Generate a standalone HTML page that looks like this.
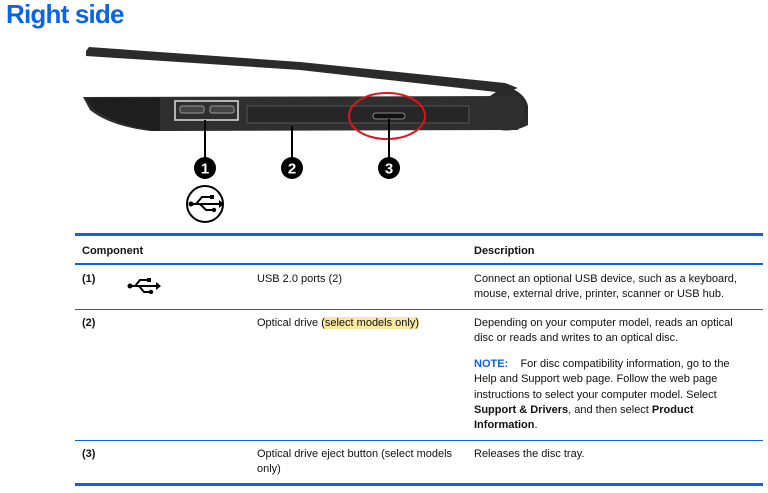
<!DOCTYPE html>
<html><head><meta charset="utf-8"><style>
body{margin:0;width:768px;height:493px;background:#fff;position:relative;overflow:hidden;font-family:"Liberation Sans",sans-serif;}
.t{position:absolute;font-size:11px;line-height:15.3px;color:#111;white-space:nowrap;letter-spacing:0px}
.b{font-weight:bold}
.hl{position:absolute;left:75px;width:688px;background:#0a64e6}
</style></head><body>
<div style="position:absolute;left:6px;top:-1px;font-size:26px;font-weight:bold;color:#0a64e6;letter-spacing:-0.8px">Right side</div>
<svg width="768" height="230" style="position:absolute;left:0;top:0">
<path d="M86 51 L89 47 L300 62 L505 83 L518 88 L505 93 L300 70 L86 56 Z" fill="#2b2b2b"/>
<path d="M505 86 Q525 92 528 106 L528 125 Q515 132 500 130 L490 130 L490 96 Z" fill="#2a2a2a"/>
<path d="M83 97 L520 96 L525 110 L518 130 L170 131 L150 131 Q110 126 90 110 Z" fill="#2f2f2f"/>
<path d="M86 98 L160 98 L160 131 Q115 126 92 108 Z" fill="#1e1e1e"/>
<rect x="175" y="101" width="63" height="19" fill="none" stroke="#ddd" stroke-width="1.5"/>
<rect x="180" y="106" width="24" height="7" rx="2" fill="#444" stroke="#999"/>
<rect x="210" y="106" width="24" height="7" rx="2" fill="#444" stroke="#999"/>
<rect x="247" y="106" width="222" height="17" fill="#262626" stroke="#555"/>
<rect x="373" y="113" width="32" height="6" rx="3" fill="#111" stroke="#888"/>
<ellipse cx="387" cy="116" rx="38" ry="23" fill="none" stroke="#e0141e" stroke-width="2"/>
<line x1="205" y1="120" x2="205" y2="158" stroke="#000" stroke-width="2"/>
<line x1="292" y1="126" x2="292" y2="158" stroke="#000" stroke-width="2"/>
<line x1="389" y1="119" x2="389" y2="158" stroke="#000" stroke-width="2"/>
<g font-family="Liberation Sans" font-weight="bold" font-size="15" fill="#fff" text-anchor="middle">
<circle cx="205" cy="168" r="11" fill="#000"/><text x="205" y="173.5">1</text>
<circle cx="292" cy="168" r="11" fill="#000"/><text x="292" y="173.5">2</text>
<circle cx="389" cy="168" r="11" fill="#000"/><text x="389" y="173.5">3</text>
</g>
<circle cx="205" cy="204" r="18" fill="none" stroke="#000" stroke-width="2"/>
<g stroke="#000" stroke-width="2" fill="none"><line x1="190" y1="204" x2="220" y2="204"/><path d="M196 204 L202 197 L210 197"/><path d="M200 204 L206 210 L213 210"/></g>
<circle cx="191" cy="204" r="2.5"/><rect x="210" y="195" width="4" height="4"/><circle cx="214" cy="210" r="2.2"/><path d="M219 200 L224 204 L219 208Z"/>
</svg>
<div class="hl" style="top:233px;height:3px"></div>
<div class="t b" style="left:82px;top:244px">Component</div>
<div class="t b" style="left:474px;top:244px">Description</div>
<div class="hl" style="top:263px;height:2px"></div>
<div class="t b" style="left:82px;top:272px">(1)</div>
<svg width="40" height="16" style="position:absolute;left:126px;top:278px"><g stroke="#000" stroke-width="2" fill="none"><line x1="3" y1="8" x2="32" y2="8"/><path d="M9 8 L14 2 L22 2"/><path d="M13 8 L18 14 L25 14"/></g><circle cx="4" cy="8" r="2.5"/><rect x="21" y="0" width="4" height="4"/><circle cx="25" cy="14" r="2.2"/><path d="M30 4 L35 8 L30 12Z"/></svg>
<div class="t" style="left:257px;top:272px">USB 2.0 ports (2)</div>
<div class="t" style="left:474px;top:272px">Connect an optional USB device, such as a keyboard,<br>mouse, external drive, printer, scanner or USB hub.</div>
<div class="hl" style="top:309px;height:1px"></div>
<div class="t b" style="left:82px;top:316px">(2)</div>
<div class="t" style="left:257px;top:316px">Optical drive <span style="background:#fbe9a2;border-radius:3px">(select models only)</span></div>
<div class="t" style="left:474px;top:316px">Depending on your computer model, reads an optical<br>disc or reads and writes to an optical disc.</div>
<div class="t" style="left:474px;top:357px"><span class="b" style="color:#0a64e6">NOTE:</span>&nbsp;&nbsp;&nbsp; For disc compatibility information, go to the<br>Help and Support web page. Follow the web page<br>instructions to select your computer model. Select<br><span class="b">Support &amp; Drivers</span>, and then select <span class="b">Product<br>Information</span>.</div>
<div class="hl" style="top:440px;height:1px"></div>
<div class="t b" style="left:82px;top:447px">(3)</div>
<div class="t" style="left:257px;top:447px">Optical drive eject button (select models<br>only)</div>
<div class="t" style="left:474px;top:447px">Releases the disc tray.</div>
<div class="hl" style="top:483px;height:3px"></div>
</body></html>
